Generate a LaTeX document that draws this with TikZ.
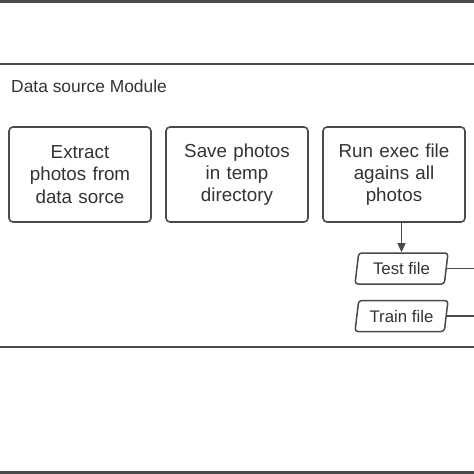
\documentclass[tikz,border=0pt]{standalone}
\usepackage{fontspec}
\setmainfont{Liberation Sans}
\usepackage{xcolor}
\usetikzlibrary{shapes,arrows,positioning,calc,arrows.meta}
\definecolor{lineg}{HTML}{4A4A4A}
\definecolor{textg}{HTML}{333333}

\begin{document}
\begin{tikzpicture}[x=1pt,y=-1pt,
    frameline/.style={line width=2.2pt, draw=lineg},
    procbox/.style={draw=lineg, line width=1.6pt, rounded corners=4pt, minimum width=142pt, minimum height=95pt, text width=134pt, align=center, text=textg, font=\fontsize{18.8}{22.2}\selectfont},
    filebox/.style={draw=lineg, line width=1.5pt, trapezium, trapezium left angle=79, trapezium right angle=101, trapezium stretches body, rounded corners=3pt, minimum width=93pt, minimum height=31pt, inner xsep=1pt, text=textg, font=\fontsize{16.8}{19}\selectfont}]
    \useasboundingbox (0,0) rectangle (474,474);

    % outer frame lines
    \draw [frameline, line width=3pt] (0,1.5) -- (474,1.5);
    \draw [frameline] (0,64) -- (474,64);
    \draw [frameline] (0,347) -- (474,347);
    \draw [frameline, line width=3pt] (0,472.5) -- (474,472.5);

    \node [anchor=west, text=textg, font=\fontsize{17.4}{20}\selectfont, inner sep=2pt] (title) at (9,86) {Data source Module};

    % process steps
    \node [procbox] (extract) at (80,174.5) {Extract\\photos from\\data sorce};
    \node [procbox] (save) at (237,174.5) {Save photos\\in temp\\directory};
    \node [procbox] (run) at (394,174.5) {Run exec file\\agains all\\photos};

    % output files
    \node [filebox] (test) at (401.5,268.5) {Test file};
    \node [filebox] (train) at (401.5,316) {Train file};
    \coordinate (edge) at (474,0);

    \draw [-{Triangle[length=9pt,width=8pt]}, line width=1.2pt, draw=lineg, fill=lineg] (test.north |- run.south) -- (test.north);
    \draw [line width=1.2pt, draw=lineg] (test.east) -- (test.east -| edge);
    \draw [line width=1.2pt, draw=lineg] (train.east) -- (train.east -| edge);

\end{tikzpicture}
\end{document}
